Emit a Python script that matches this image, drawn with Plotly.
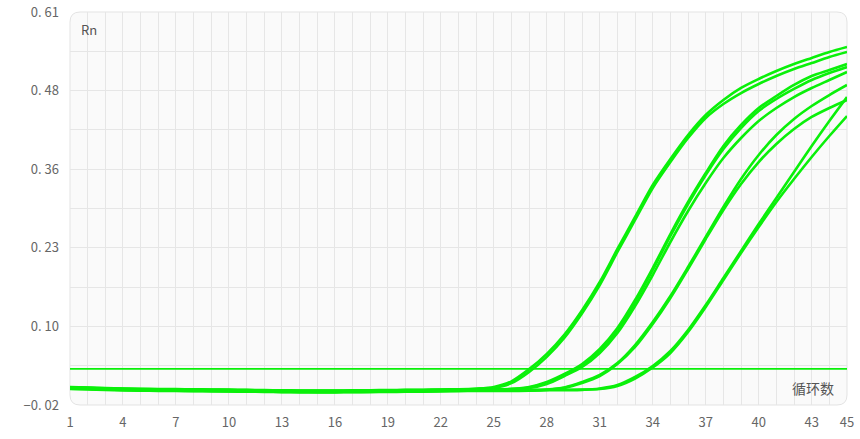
import plotly.graph_objects as go

CYCLES = list(range(1, 46))

A1 = [0.0077, 0.0071, 0.0063, 0.0055, 0.0049, 0.0047, 0.0045, 0.0041, 0.0039, 0.0037,
      0.0033, 0.0030, 0.0025, 0.0023, 0.0022, 0.0022, 0.0025, 0.0027, 0.0029, 0.0033,
      0.0035, 0.0039, 0.0046, 0.0060, 0.0090, 0.0180, 0.0375, 0.0620, 0.0930, 0.1320,
      0.1772, 0.2301, 0.2814, 0.3327, 0.3743, 0.4128, 0.4449, 0.4689, 0.4882, 0.5026,
      0.5154, 0.5266, 0.5363, 0.5459, 0.5539]
A2 = [0.0087, 0.0081, 0.0073, 0.0065, 0.0059, 0.0057, 0.0055, 0.0051, 0.0049, 0.0047,
      0.0043, 0.0040, 0.0035, 0.0033, 0.0032, 0.0032, 0.0035, 0.0037, 0.0039, 0.0043,
      0.0045, 0.0049, 0.0053, 0.0060, 0.0076, 0.0150, 0.0330, 0.0572, 0.0880, 0.1272,
      0.1724, 0.2253, 0.2766, 0.3279, 0.3695, 0.4080, 0.4401, 0.4625, 0.4801, 0.4946,
      0.5074, 0.5186, 0.5282, 0.5379, 0.5459]
B1 = [0.0072, 0.0066, 0.0058, 0.0050, 0.0044, 0.0042, 0.0040, 0.0036, 0.0034, 0.0032,
      0.0028, 0.0025, 0.0020, 0.0018, 0.0017, 0.0017, 0.0020, 0.0022, 0.0024, 0.0028,
      0.0030, 0.0034, 0.0038, 0.0042, 0.0045, 0.0056, 0.0088, 0.0169, 0.0297, 0.0457,
      0.0698, 0.1034, 0.1483, 0.1996, 0.2541, 0.3054, 0.3519, 0.3952, 0.4289, 0.4561,
      0.4753, 0.4930, 0.5074, 0.5170, 0.5266]
B2 = [0.0067, 0.0061, 0.0053, 0.0045, 0.0039, 0.0037, 0.0035, 0.0031, 0.0029, 0.0027,
      0.0023, 0.0020, 0.0015, 0.0013, 0.0012, 0.0012, 0.0015, 0.0017, 0.0019, 0.0023,
      0.0025, 0.0029, 0.0033, 0.0037, 0.0040, 0.0050, 0.0080, 0.0153, 0.0281, 0.0441,
      0.0666, 0.1002, 0.1451, 0.1964, 0.2509, 0.3022, 0.3487, 0.3904, 0.4240, 0.4513,
      0.4705, 0.4866, 0.5010, 0.5122, 0.5218]
B3 = [0.0082, 0.0076, 0.0068, 0.0060, 0.0054, 0.0052, 0.0050, 0.0046, 0.0044, 0.0042,
      0.0038, 0.0035, 0.0030, 0.0028, 0.0027, 0.0027, 0.0030, 0.0032, 0.0034, 0.0038,
      0.0040, 0.0044, 0.0048, 0.0050, 0.0052, 0.0058, 0.0072, 0.0137, 0.0265, 0.0409,
      0.0634, 0.0954, 0.1387, 0.1884, 0.2413, 0.2910, 0.3359, 0.3759, 0.4080, 0.4353,
      0.4561, 0.4737, 0.4882, 0.5010, 0.5138]
C1 = [0.0062, 0.0056, 0.0048, 0.0040, 0.0034, 0.0032, 0.0030, 0.0026, 0.0024, 0.0022,
      0.0018, 0.0015, 0.0010, 0.0008, 0.0007, 0.0007, 0.0010, 0.0012, 0.0014, 0.0018,
      0.0020, 0.0024, 0.0028, 0.0032, 0.0032, 0.0032, 0.0036, 0.0048, 0.0082, 0.0169,
      0.0281, 0.0473, 0.0762, 0.1130, 0.1547, 0.2012, 0.2493, 0.2974, 0.3423, 0.3808,
      0.4128, 0.4385, 0.4593, 0.4769, 0.4930]
C2 = [0.0057, 0.0051, 0.0043, 0.0035, 0.0029, 0.0027, 0.0025, 0.0021, 0.0019, 0.0017,
      0.0013, 0.0010, 0.0005, 0.0003, 0.0002, 0.0002, 0.0005, 0.0007, 0.0009, 0.0013,
      0.0015, 0.0019, 0.0023, 0.0027, 0.0027, 0.0027, 0.0030, 0.0042, 0.0075, 0.0153,
      0.0265, 0.0457, 0.0730, 0.1098, 0.1515, 0.1980, 0.2461, 0.2926, 0.3343, 0.3695,
      0.3984, 0.4224, 0.4417, 0.4561, 0.4689]
D1 = [0.0067, 0.0061, 0.0053, 0.0045, 0.0039, 0.0037, 0.0035, 0.0031, 0.0029, 0.0027,
      0.0023, 0.0020, 0.0015, 0.0013, 0.0012, 0.0012, 0.0015, 0.0017, 0.0019, 0.0023,
      0.0025, 0.0029, 0.0033, 0.0037, 0.0037, 0.0035, 0.0035, 0.0036, 0.0038, 0.0042,
      0.0064, 0.0120, 0.0249, 0.0425, 0.0666, 0.1002, 0.1403, 0.1836, 0.2269, 0.2701,
      0.3118, 0.3535, 0.3952, 0.4353, 0.4737]
D2 = [0.0077, 0.0071, 0.0063, 0.0055, 0.0049, 0.0047, 0.0045, 0.0041, 0.0039, 0.0037,
      0.0033, 0.0030, 0.0025, 0.0023, 0.0022, 0.0022, 0.0025, 0.0027, 0.0029, 0.0033,
      0.0035, 0.0039, 0.0043, 0.0047, 0.0047, 0.0045, 0.0045, 0.0045, 0.0045, 0.0046,
      0.0056, 0.0104, 0.0225, 0.0401, 0.0634, 0.0970, 0.1371, 0.1804, 0.2237, 0.2653,
      0.3054, 0.3423, 0.3776, 0.4112, 0.4433]

SERIES = [A1, A2, B1, B2, B3, C1, C2, D1, D2]
THRESHOLD = 0.038

Y_MIN, Y_MAX = -0.02, 0.61
Y_GRID = [-0.02, 0.043, 0.106, 0.169, 0.232, 0.295, 0.358, 0.421, 0.484, 0.547, 0.61]
Y_TEXT = ["\u22120. 02", "", "0. 10", "", "0. 23", "", "0. 36", "", "0. 48", "", "0. 61"]
X_LABELED = [1, 4, 7, 10, 13, 16, 19, 22, 25, 28, 31, 34, 37, 40, 43, 45]

GREEN = "#0af00a"
FONT = "Noto Sans CJK SC"

fig = go.Figure()
for s in SERIES:
    fig.add_trace(go.Scatter(x=CYCLES, y=s, mode="lines",
                             line=dict(color=GREEN, width=2.6, shape="spline", smoothing=0.8),
                             hoverinfo="skip", showlegend=False))
fig.add_trace(go.Scatter(x=[CYCLES[0], CYCLES[-1]], y=[THRESHOLD, THRESHOLD], mode="lines",
                         line=dict(color=GREEN, width=1.8), hoverinfo="skip", showlegend=False))

W, H = 860, 439
ml, mr, mt, mb = 70, 13, 12, 34
pw, ph = W - ml - mr, H - mt - mb
rx, ry = 10 / pw, 10 / ph
path = (f"M {rx},0 L {1-rx},0 Q 1,0 1,{ry} L 1,{1-ry} Q 1,1 {1-rx},1 "
        f"L {rx},1 Q 0,1 0,{1-ry} L 0,{ry} Q 0,0 {rx},0 Z")

fig.update_layout(
    width=W, height=H,
    margin=dict(l=ml, r=mr, t=mt, b=mb, autoexpand=False),
    paper_bgcolor="white", plot_bgcolor="rgba(0,0,0,0)",
    font=dict(family=FONT, size=13, color="#666666"),
    shapes=[dict(type="path", path=path, xref="paper", yref="paper",
                 fillcolor="#fafafa", line=dict(color="#e3e3e3", width=1), layer="below")],
    xaxis=dict(range=[1, 45], tickvals=CYCLES, automargin=False,
               ticktext=[str(c) if c in X_LABELED else "" for c in CYCLES],
               showgrid=True, gridcolor="#e6e6e6", gridwidth=1, zeroline=False,
               showline=False, ticks="", ticklabelstandoff=8,
               tickfont=dict(family=FONT, size=13, color="#666666")),
    yaxis=dict(range=[Y_MIN, Y_MAX], tickvals=Y_GRID, ticktext=Y_TEXT, automargin=False,
               showgrid=True, gridcolor="#e6e6e6", gridwidth=1, zeroline=False,
               showline=False, ticks="", ticklabelstandoff=10,
               tickfont=dict(family=FONT, size=13, color="#666666")),
    annotations=[
        dict(text="Rn", xref="paper", yref="paper", x=0, y=1, xanchor="left", yanchor="top",
             xshift=9, yshift=-6, showarrow=False, font=dict(family=FONT, size=13, color="#555555")),
        dict(text="循环数", xref="paper", yref="paper", x=1, y=0, xanchor="right", yanchor="bottom",
             xshift=-11, yshift=5, showarrow=False, font=dict(family=FONT, size=14, color="#555555")),
    ],
)

fig.write_html("out.html", config={"displayModeBar": False},
               post_script="document.body.style.margin='0';document.body.style.overflow='hidden';")
